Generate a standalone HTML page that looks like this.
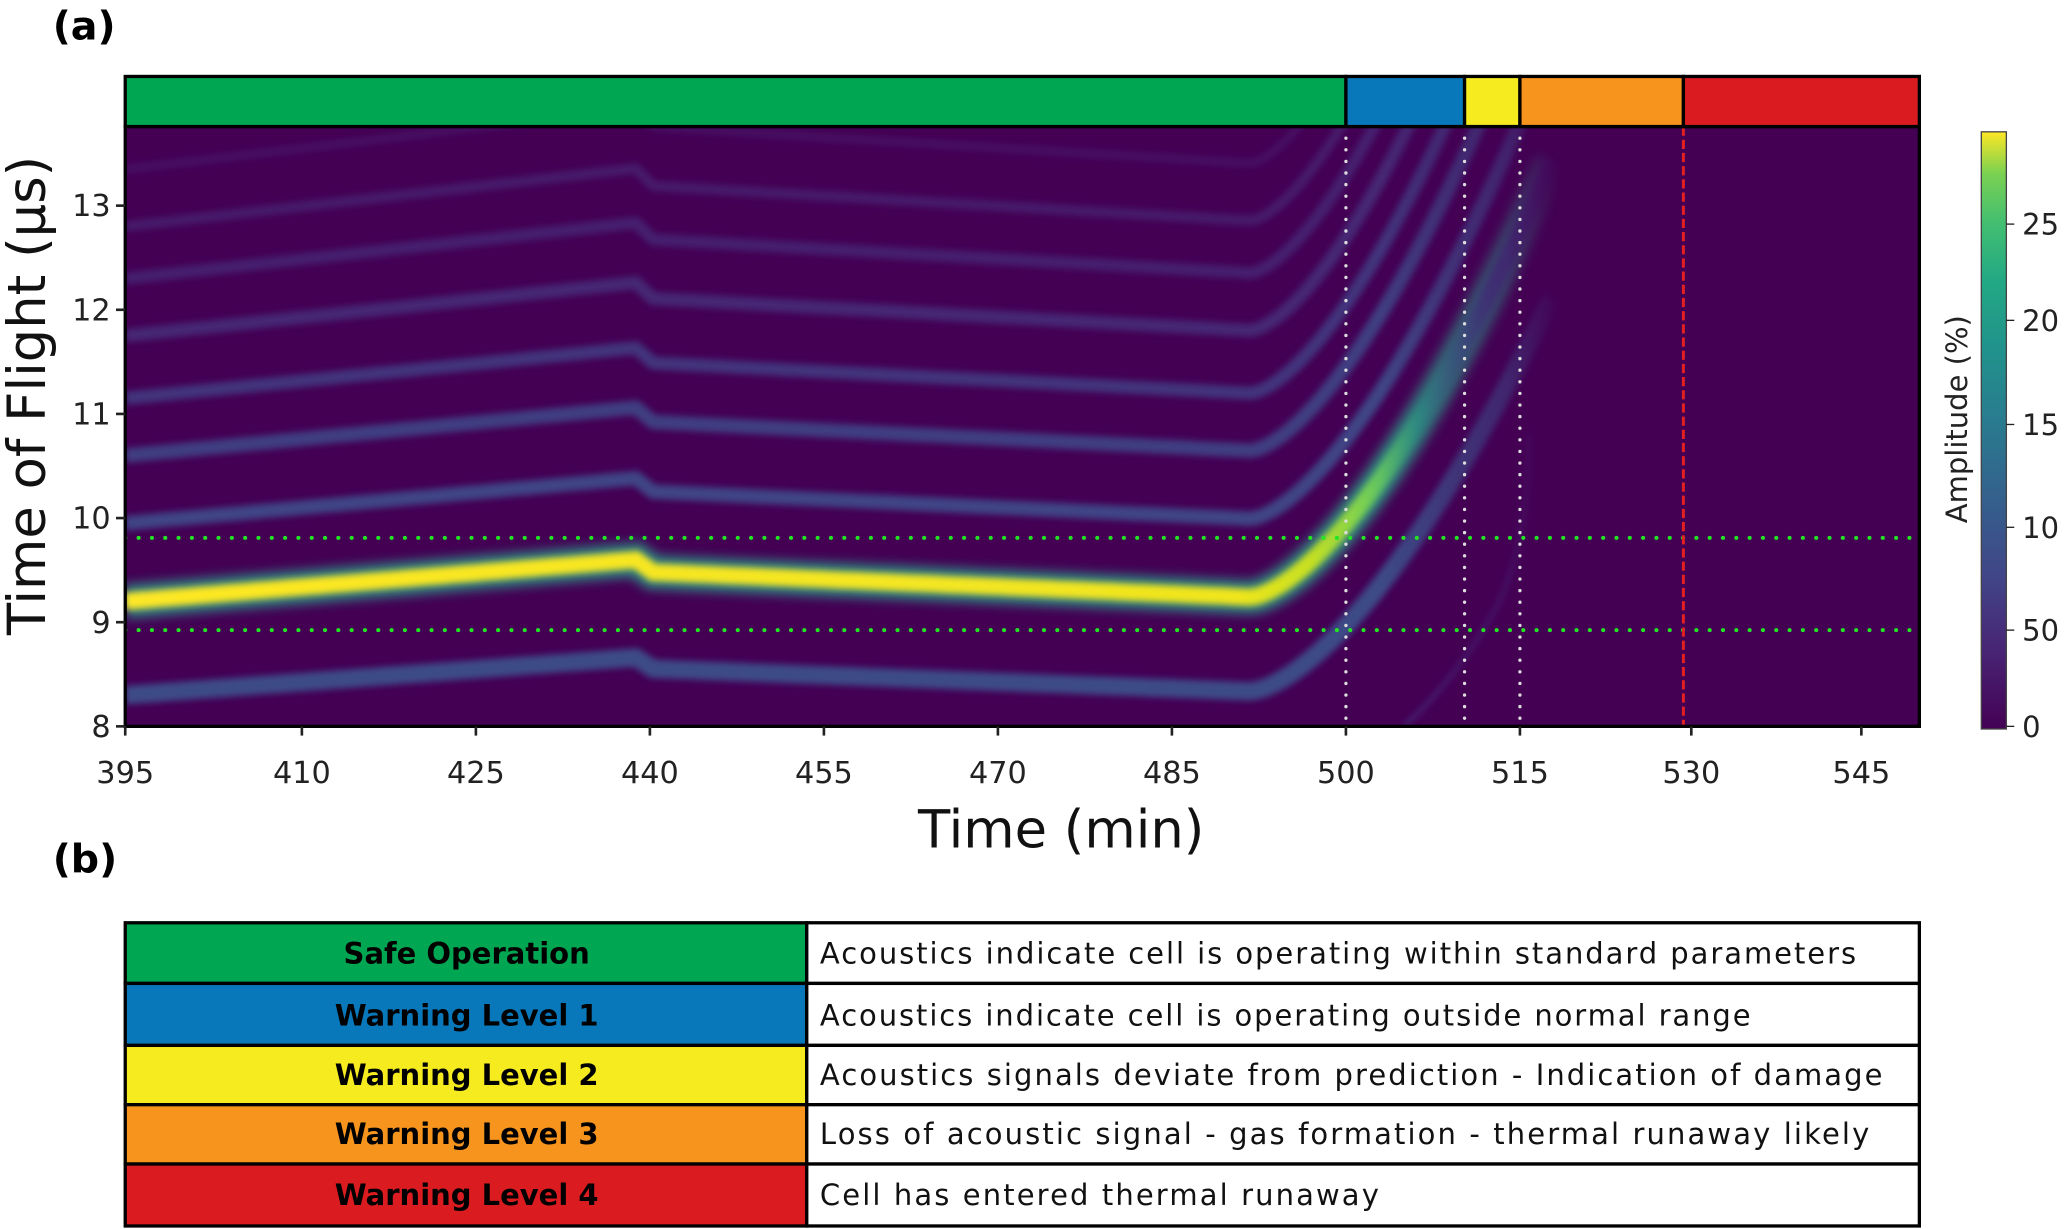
<!DOCTYPE html>
<html><head><meta charset="utf-8"><style>
html,body{margin:0;padding:0;background:#fff;}
svg{display:block;}
text{font-family:"DejaVu Sans","Liberation Sans",sans-serif;}
</style></head><body>
<svg id="s" width="2067" height="1229" viewBox="0 0 1568 932.3" preserveAspectRatio="none" xmlns="http://www.w3.org/2000/svg">
<defs>
<linearGradient id="vir" x1="0" y1="1" x2="0" y2="0">
<stop offset="0" stop-color="#440154"/><stop offset="0.13" stop-color="#482475"/><stop offset="0.25" stop-color="#414487"/><stop offset="0.38" stop-color="#355f8d"/><stop offset="0.5" stop-color="#2a788e"/><stop offset="0.63" stop-color="#21918c"/><stop offset="0.75" stop-color="#22a884"/><stop offset="0.85" stop-color="#44bf70"/><stop offset="0.93" stop-color="#7ad151"/><stop offset="1" stop-color="#fde725"/>
</linearGradient>
<filter id="b1" x="-5%" y="-50%" width="110%" height="200%"><feGaussianBlur stdDeviation="2.5"/></filter>
<filter id="b2" x="-5%" y="-50%" width="110%" height="200%"><feGaussianBlur stdDeviation="4"/></filter>
<clipPath id="pc"><rect x="95" y="96" width="1361" height="455"/></clipPath>
<linearGradient id="mg" gradientUnits="userSpaceOnUse" x1="95" y1="0" x2="1456" y2="0">
<stop offset="0" stop-color="#fde725"/><stop offset="0.62" stop-color="#f0e51f"/><stop offset="0.66" stop-color="#c8e020"/><stop offset="0.69" stop-color="#7ad151"/><stop offset="0.72" stop-color="#2a9f88"/><stop offset="0.76" stop-color="#3b528b"/><stop offset="1" stop-color="#3b528b"/>
</linearGradient>
<linearGradient id="fade" gradientUnits="userSpaceOnUse" x1="95" y1="0" x2="1456" y2="0">
<stop offset="0" stop-color="#fff"/><stop offset="0.7" stop-color="#fff"/><stop offset="0.77" stop-color="#fff" stop-opacity="0.5"/><stop offset="0.8" stop-color="#fff" stop-opacity="0"/><stop offset="1" stop-color="#fff" stop-opacity="0"/>
</linearGradient>
<mask id="fm"><rect x="0" y="0" width="1568" height="932" fill="url(#fade)"/></mask>
</defs>
<text x="40" y="30" font-size="30" font-weight="bold">(a)</text>
<text x="40" y="662" font-size="30" font-weight="bold">(b)</text>
<rect x="95" y="96" width="1361" height="455" fill="#440154"/>
<g clip-path="url(#pc)"><g id="bands" mask="url(#fm)"></g></g>
<g clip-path="url(#pc)">
<line x1="95" x2="1456" y1="408" y2="408" stroke="#22e622" stroke-width="3" stroke-dasharray="0.1 10" stroke-linecap="round"/>
<line x1="95" x2="1456" y1="478" y2="478" stroke="#22e622" stroke-width="3" stroke-dasharray="0.1 10" stroke-linecap="round"/>
<line x1="1021" x2="1021" y1="96" y2="551" stroke="#ddd" stroke-width="2.5" stroke-dasharray="0.1 8.7" stroke-linecap="round"/>
<line x1="1111" x2="1111" y1="96" y2="551" stroke="#ddd" stroke-width="2.5" stroke-dasharray="0.1 8.7" stroke-linecap="round"/>
<line x1="1153" x2="1153" y1="96" y2="551" stroke="#ddd" stroke-width="2.5" stroke-dasharray="0.1 8.7" stroke-linecap="round"/>
<line x1="1277" x2="1277" y1="96" y2="551" stroke="#e62020" stroke-width="2.2" stroke-dasharray="7 3"/>
</g>
<rect x="95" y="96" width="1361" height="455" fill="none" stroke="#000" stroke-width="2.5"/>
<rect x="95" y="58" width="926" height="38" fill="#00a651" stroke="#000" stroke-width="2.5"/>
<rect x="1021" y="58" width="90" height="38" fill="#0878bb" stroke="#000" stroke-width="2.5"/>
<rect x="1111" y="58" width="42" height="38" fill="#f6eb1f" stroke="#000" stroke-width="2.5"/>
<rect x="1153" y="58" width="124" height="38" fill="#f7941d" stroke="#000" stroke-width="2.5"/>
<rect x="1277" y="58" width="179" height="38" fill="#da1c20" stroke="#000" stroke-width="2.5"/>
<g id="ticks" font-size="23" fill="#222"></g>
<text x="805" y="643" font-size="40" text-anchor="middle" fill="#111">Time (min)</text>
<text transform="translate(34,300) rotate(-90)" font-size="40" text-anchor="middle" fill="#111">Time of Flight (μs)</text>
<rect x="1503" y="100" width="19" height="453" fill="url(#vir)" stroke="#444" stroke-width="1"/>
<text transform="translate(1492,318) rotate(-90)" font-size="22" text-anchor="middle" fill="#222">Amplitude (%)</text>
<g font-size="22" fill="#222">
<line x1="1522" x2="1528" y1="551" y2="551" stroke="#222"/><text x="1534" y="559">0</text>
<line x1="1522" x2="1528" y1="478" y2="478" stroke="#222"/><text x="1534" y="486">50</text>
<line x1="1522" x2="1528" y1="400" y2="400" stroke="#222"/><text x="1534" y="408">10</text>
<line x1="1522" x2="1528" y1="322" y2="322" stroke="#222"/><text x="1534" y="330">15</text>
<line x1="1522" x2="1528" y1="243" y2="243" stroke="#222"/><text x="1534" y="251">20</text>
<line x1="1522" x2="1528" y1="170" y2="170" stroke="#222"/><text x="1534" y="178">25</text>
</g>
<g stroke="#000" stroke-width="2.5">
<rect x="95" y="700" width="517" height="46" fill="#00a651"/>
<rect x="95" y="746" width="517" height="47" fill="#0878bb"/>
<rect x="95" y="793" width="517" height="45" fill="#f6eb1f"/>
<rect x="95" y="838" width="517" height="45" fill="#f7941d"/>
<rect x="95" y="883" width="517" height="47" fill="#da1c20"/>
<rect x="612" y="700" width="844" height="46" fill="#fff"/>
<rect x="612" y="746" width="844" height="47" fill="#fff"/>
<rect x="612" y="793" width="844" height="45" fill="#fff"/>
<rect x="612" y="838" width="844" height="45" fill="#fff"/>
<rect x="612" y="883" width="844" height="47" fill="#fff"/>
</g>
<g font-size="22" font-weight="bold" text-anchor="middle" fill="#000">
<text x="354" y="731">Safe Operation</text>
<text x="354" y="778">Warning Level 1</text>
<text x="354" y="823">Warning Level 2</text>
<text x="354" y="868">Warning Level 3</text>
<text x="354" y="914">Warning Level 4</text>
</g>
<g font-size="22" fill="#111">
<text x="622" y="731" textLength="786">Acoustics indicate cell is operating within standard parameters</text>
<text x="622" y="778" textLength="706">Acoustics indicate cell is operating outside normal range</text>
<text x="622" y="823" textLength="806">Acoustics signals deviate from prediction - Indication of damage</text>
<text x="622" y="868" textLength="796">Loss of acoustic signal - gas formation - thermal runaway likely</text>
<text x="622" y="914" textLength="424">Cell has entered thermal runaway</text>
</g>
</svg>
<script>
(function(){
function X(t){return 95+(t-395)*8.8;}
function Y(v){return 551-(v-8)*79;}
var xt=[[395,95],[410,229],[425,361],[440,493],[455,625],[470,757],[485,889],[500,1021],[515,1153],[530,1283],[545,1412]];
var tk=document.getElementById('ticks'),h='';
xt.forEach(function(p){h+='<line x1="'+p[1]+'" x2="'+p[1]+'" y1="551" y2="558" stroke="#222" stroke-width="2"/><text x="'+p[1]+'" y="594" text-anchor="middle">'+p[0]+'</text>';});
[8,9,10,11,12,13].forEach(function(v){var y=Y(v);h+='<line x1="88" x2="95" y1="'+y+'" y2="'+y+'" stroke="#222" stroke-width="2"/><text x="84" y="'+(y+8)+'" text-anchor="end">'+v+'</text>';});
tk.innerHTML=h;
function base(t){
 if(t<=439) return 9.2+(t-395)/44*0.4;
 if(t<=440.5) return 9.6-(t-439)/1.5*0.12;
 if(t<=492) return 9.48-(t-440.5)/51.5*0.24;
 return 9.24;
}
function val(Y0,t){var f=base(t)/9.2;var v=Y0*f;if(t>492){v=Y0*f*(1+0.0029*Math.pow(t-492,1.55));}return v;}
function path(Y0,t0,t1){var d='';for(var t=t0;t<=t1;t+=0.5){var v=val(Y0,t);d+=(d?'L':'M')+X(t).toFixed(1)+','+Y(v).toFixed(1);if(v>14.2)break;}return d;}
var g=document.getElementById('bands'),s='';
var bands=[[8.3,'#3e4f8a',14,0.95],[9.95,'#3f4a89',11,0.95],[10.6,'#414487',11,0.9],[11.15,'#433d84',10,0.85],[11.75,'#46337e',10,0.8],[12.3,'#472c7a',9,0.75],[12.8,'#482576',8,0.7],[13.35,'#481d6f',6,0.6]];
bands.forEach(function(b){s+='<path d="'+path(b[0],395,518)+'" fill="none" stroke="'+b[1]+'" stroke-width="'+b[2]+'" opacity="'+b[3]+'" filter="url(#b1)"/>';});
s+='<path d="M1065,551 Q1100,520 1130,470 T1160,330" fill="none" stroke="#472c7a" stroke-width="3" filter="url(#b1)"/>';
var md=path(9.2,395,518);
s+='<path d="'+md+'" fill="none" stroke="#2a9f88" stroke-width="26" opacity="0.8" filter="url(#b2)"/>';
s+='<path d="'+md+'" fill="none" stroke="url(#mg)" stroke-width="13" filter="url(#b1)"/>';
g.innerHTML=s;
})();
</script>
</body></html>
